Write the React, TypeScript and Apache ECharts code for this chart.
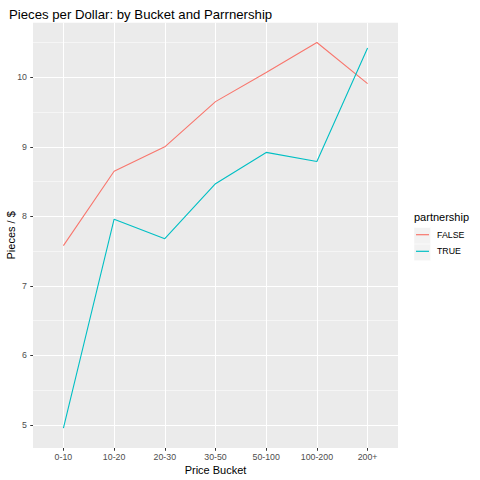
import React, { useEffect, useRef } from "react";
import * as echarts from "echarts";

const categories = ["0-10", "10-20", "20-30", "30-50", "50-100", "100-200", "200+"];
const falseValues = [7.58, 8.65, 9.0, 9.65, 10.07, 10.5, 9.91];
const trueValues = [4.955, 7.96, 7.68, 8.47, 8.92, 8.79, 10.42];
const yMajorTicks = [5, 6, 7, 8, 9, 10];
const yMinorTicks = [5.5, 6.5, 7.5, 8.5, 9.5, 10.5];
const seriesNames = ["FALSE", "TRUE"];

const FONT = "Liberation Sans, Arial, Helvetica, sans-serif";

export default function App() {
  const ref = useRef<HTMLDivElement>(null);
  useEffect(() => {
    if (!ref.current) return;
    const chart = echarts.init(ref.current, undefined, { renderer: "svg" });
    const idx = categories.map((_, i) => i);
    const left = 33, top = 22.7, right = 398, bottom = 448;
    const option: any = {
      animation: false,
      backgroundColor: "#ffffff",
      textStyle: { fontFamily: FONT },
      title: {
        text: "Pieces per Dollar: by Bucket and Parrnership",
        left: 4,
        top: 3,
        textStyle: { fontSize: 13.2, fontWeight: "normal", color: "#000", fontFamily: FONT },
      },
      grid: {
        left,
        top,
        width: right - left,
        height: bottom - top,
        show: true,
        backgroundColor: "#EBEBEB",
        borderWidth: 0,
        containLabel: false,
        outerBoundsMode: "none",
      },
      xAxis: {
        type: "value",
        min: -0.6,
        max: categories.length - 1 + 0.6,
        name: "Price Bucket",
        nameLocation: "middle",
        nameGap: 16,
        nameMoveOverlap: false,
        nameTextStyle: { fontSize: 11, color: "#000", fontFamily: FONT },
        axisLine: { show: false, onZero: false },
        axisTick: { show: true, customValues: idx, length: 2.75, lineStyle: { color: "#333333", width: 1 } },
        axisLabel: {
          customValues: idx,
          formatter: (v: number) => categories[Math.round(v)] ?? "",
          fontSize: 8.8,
          color: "#4D4D4D",
          margin: 4.5,
          fontFamily: FONT,
        },
        splitLine: { show: true, lineStyle: { color: "#ffffff", width: 1.07 } },
      },
      yAxis: {
        type: "value",
        min: 4.67,
        max: 10.785,
        name: "Pieces / $",
        nameLocation: "middle",
        nameGap: 17,
        nameMoveOverlap: false,
        nameTextStyle: { fontSize: 11, color: "#000", fontFamily: FONT },
        axisLine: { show: false, onZero: false },
        axisTick: { show: true, customValues: yMajorTicks, length: 2.75, lineStyle: { color: "#333333", width: 1 } },
        axisLabel: {
          customValues: yMajorTicks,
          fontSize: 8.8,
          color: "#4D4D4D",
          margin: 6,
          fontFamily: FONT,
        },
        splitLine: { show: true, lineStyle: { color: "#ffffff", width: 1.07 } },
      },
      legend: {
        orient: "vertical",
        left: 416,
        top: 229.7,
        padding: 0,
        itemWidth: 13,
        itemHeight: 1.2,
        itemGap: 6.6,
        icon: "rect",
        data: seriesNames,
        textStyle: { fontSize: 8.8, color: "#000", lineHeight: 10, fontFamily: FONT, padding: [0, 0, 0, 3] },
      },
      graphic: [
        {
          type: "text",
          left: 414,
          top: 211,
          style: { text: "partnership", fontSize: 11, fill: "#000", fontFamily: FONT },
        },
        {
          type: "rect",
          shape: { x: 414, y: 227.5, width: 16.6, height: 16.6 },
          style: { fill: "#F2F2F2", stroke: "#ffffff", lineWidth: 0.5 },
          z: -1,
        },
        {
          type: "rect",
          shape: { x: 414, y: 244.1, width: 16.6, height: 16.6 },
          style: { fill: "#F2F2F2", stroke: "#ffffff", lineWidth: 0.5 },
          z: -1,
        },
      ],
      series: [
        {
          name: seriesNames[0],
          type: "line",
          data: falseValues.map((v, i) => [i, v]),
          showSymbol: false,
          symbol: "none",
          lineStyle: { color: "#F8766D", width: 1.1 },
          itemStyle: { color: "#F8766D" },
          z: 3,
          markLine: {
            silent: true,
            symbol: ["none", "none"],
            label: { show: false },
            lineStyle: { color: "#ffffff", width: 0.53, type: "solid" },
            data: yMinorTicks.map((v) => ({ yAxis: v })),
            z: 1,
          },
        },
        {
          name: seriesNames[1],
          type: "line",
          data: trueValues.map((v, i) => [i, v]),
          showSymbol: false,
          symbol: "none",
          lineStyle: { color: "#00BFC4", width: 1.1 },
          itemStyle: { color: "#00BFC4" },
          z: 3,
        },
      ],
    };
    chart.setOption(option);
    return () => chart.dispose();
  }, []);
  return <div ref={ref} style={{ width: 480, height: 480, position: "absolute", left: 0, top: 0 }} />;
}
